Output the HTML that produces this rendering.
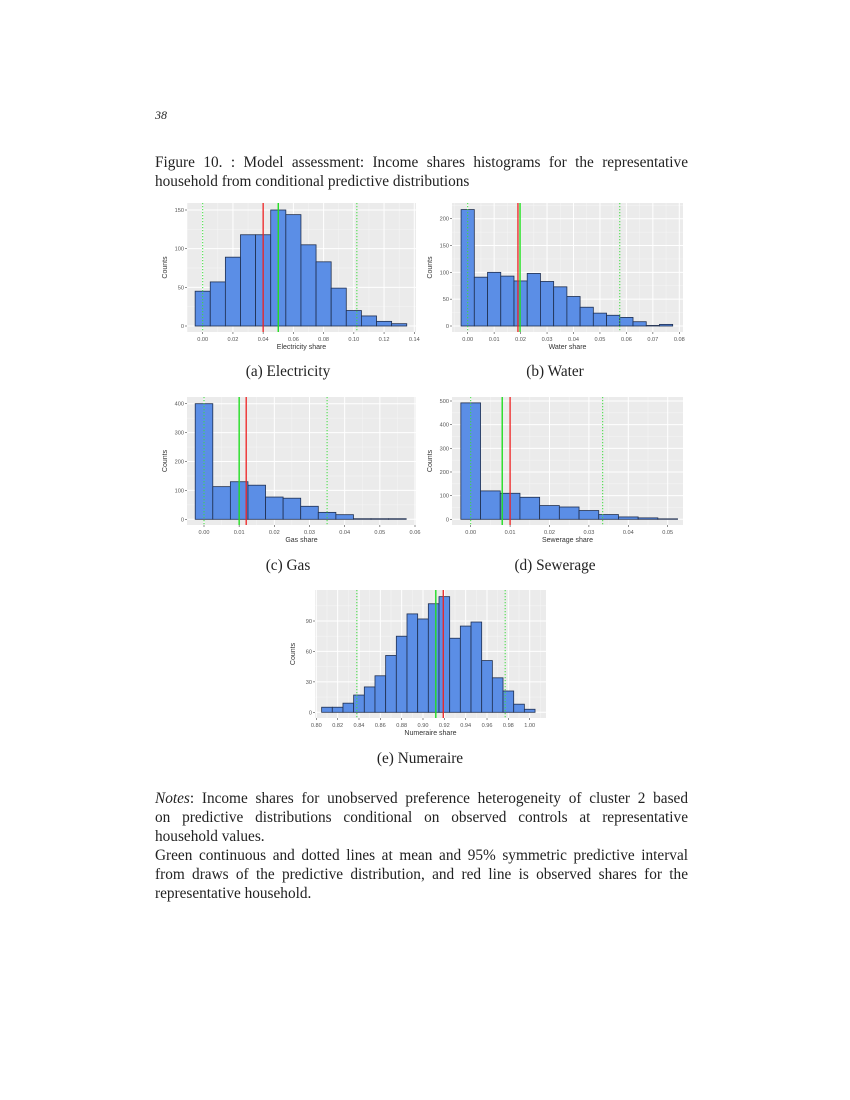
<!DOCTYPE html>
<html><head><meta charset="utf-8">
<style>
html,body{margin:0;padding:0;background:#fff;}
body{width:850px;height:1100px;position:relative;overflow:hidden;font-family:"Liberation Serif",serif;color:#222;}
.t{position:absolute;left:155px;width:533px;font-size:15.3px;line-height:19px;text-align:justify;text-align-last:justify;white-space:nowrap;}
.l{text-align-last:left;}
.sub{position:absolute;font-size:15.3px;transform:translateX(-50%);white-space:nowrap;}
svg{position:absolute;left:0;top:0;}
svg text{font-family:"Liberation Sans",sans-serif;}
</style></head>
<body>
<div style="position:absolute;left:155px;top:108px;font-style:italic;font-size:12px;">38</div>
<div class="t" style="top:153px;">Figure 10. : Model assessment: Income shares histograms for the representative</div>
<div class="t l" style="top:172px;">household from conditional predictive distributions</div>
<div class="sub" style="left:288px;top:363px;">(a) Electricity</div>
<div class="sub" style="left:555px;top:363px;">(b) Water</div>
<div class="sub" style="left:288px;top:557px;">(c) Gas</div>
<div class="sub" style="left:555px;top:557px;">(d) Sewerage</div>
<div class="sub" style="left:420px;top:750px;">(e) Numeraire</div>
<div class="t" style="top:789px;"><i>Notes</i>: Income shares for unobserved preference heterogeneity of cluster 2 based</div>
<div class="t" style="top:808px;">on predictive distributions conditional on observed controls at representative</div>
<div class="t l" style="top:827px;">household values.</div>
<div class="t" style="top:846px;">Green continuous and dotted lines at mean and 95% symmetric predictive interval</div>
<div class="t" style="top:865px;">from draws of the predictive distribution, and red line is observed shares for the</div>
<div class="t l" style="top:884px;">representative household.</div>
<svg id="chart" width="850" height="1100"></svg>
<script>
// ---- data ----
const elecCounts=[45,57,89,118,118,150,144,105,83,49,20,13,6,3];
const elecXTicks=["0.00","0.02","0.04","0.06","0.08","0.10","0.12","0.14"];
const elecYTicks=[0,50,100,150];
const elecLines=[0.05,0.04,0.0,0.102]; // mean, observed, lo, hi
const waterCounts=[217,91,100,93,84,98,83,73,55,35,24,20,16,8,1,3];
const waterXTicks=["0.00","0.01","0.02","0.03","0.04","0.05","0.06","0.07","0.08"];
const waterYTicks=[0,50,100,150,200];
const waterLines=[0.0198,0.019,0.0,0.0575];
const gasCounts=[400,113,130,118,77,73,45,24,16,2,2,2];
const gasXTicks=["0.00","0.01","0.02","0.03","0.04","0.05","0.06"];
const gasYTicks=[0,100,200,300,400];
const gasLines=[0.01,0.012,0.0,0.035];
const sewCounts=[492,120,110,93,58,52,37,20,10,6,2];
const sewXTicks=["0.00","0.01","0.02","0.03","0.04","0.05"];
const sewYTicks=[0,100,200,300,400,500];
const sewLines=[0.008,0.010,0.0,0.0335];
const numCounts=[5,5,9,17,25,36,56,75,97,92,107,114,73,85,89,51,34,21,8,3];
const numXTicks=["0.80","0.82","0.84","0.86","0.88","0.90","0.92","0.94","0.96","0.98","1.00"];
const numYTicks=[0,30,60,90];
const numLines=[0.912,0.919,0.838,0.977];

const NS="http://www.w3.org/2000/svg";
const svg=document.getElementById('chart');
function mk(tag,attrs,parent){const e=document.createElementNS(NS,tag);for(const k in attrs)e.setAttribute(k,attrs[k]);(parent||svg).appendChild(e);return e;}

function chart(id,px0,py0,px1,py1,xv0,xp0,xv1,xp1,yv1,yp1,yp0,binStart,binW,counts,xt,yt,lines,xtitle){
  const g=mk('g',{});
  
  
  const X=v=>xp0+(v-xv0)*(xp1-xp0)/(xv1-xv0);
  const Y=v=>yp0+(v)*(yp1-yp0)/yv1;
  const bg=mk('rect',{x:px0,y:py0,width:px1-px0,height:py1-py0,fill:'#ebebeb'},g);
  
  
  const xs=xt.map(Number), step=xs[1]-xs[0];
  const ysStep=yt[1]-yt[0];
  // minor grid
  for(let i=-1;i<xs.length;i++){const v=xs[0]+(i+0.5)*step;const p=X(v);if(p>px0&&p<px1)mk('line',{x1:p,x2:p,y1:py0,y2:py1,stroke:'#f6f6f6','stroke-width':0.5},g);}
  for(let i=-1;i<yt.length;i++){const v=yt[0]+(i+0.5)*ysStep;const p=Y(v);if(p>py0&&p<py1)mk('line',{x1:px0,x2:px1,y1:p,y2:p,stroke:'#f6f6f6','stroke-width':0.5},g);}
  xs.forEach((v,i)=>{const p=X(v);mk('line',{x1:p,x2:p,y1:py0,y2:py1,stroke:'#fff','stroke-width':1},g);
    mk('line',{x1:p,x2:p,y1:py1,y2:py1+2,stroke:'#444','stroke-width':0.6},g);
    const t=mk('text',{x:p,y:py1+9,'font-size':5.6,fill:'#555','text-anchor':'middle'},g);t.textContent=xt[i];
    
    });
  yt.forEach(v=>{const p=Y(v);mk('line',{x1:px0,x2:px1,y1:p,y2:p,stroke:'#fff','stroke-width':1},g);
    mk('line',{x1:px0-2,x2:px0,y1:p,y2:p,stroke:'#444','stroke-width':0.6},g);
    const t=mk('text',{x:px0-3,y:p+2,'font-size':5.6,fill:'#555','text-anchor':'end'},g);t.textContent=v;
    
    });
  counts.forEach((c,i)=>{const a=binStart+i*binW;const r=mk('rect',{x:X(a),y:Y(c),width:X(a+binW)-X(a),height:Y(0)-Y(c),fill:'#5b8ee6',stroke:'#1f2f50','stroke-width':0.8},g);
    
    });
  const [mean,obs,lo,hi]=lines;
  [[lo,'lo'],[hi,'hi']].forEach(([v,n])=>{const l=mk('line',{x1:X(v),x2:X(v),y1:py0,y2:py1,stroke:'#3ddc3d','stroke-width':1,'stroke-dasharray':'1.2,1.8'},g);
    
    });
  const m=mk('line',{x1:X(mean),x2:X(mean),y1:py0,y2:py1,stroke:'#22dd22','stroke-width':1.4},g);
  
  
  const o=mk('line',{x1:X(obs),x2:X(obs),y1:py0,y2:py1,stroke:'#ee2222','stroke-width':1.3},g);
  
  
  const xtl=mk('text',{x:(px0+px1)/2,y:py1+17,'font-size':7,fill:'#333','text-anchor':'middle'},g);xtl.textContent=xtitle;
  
  
  const cy=(py0+py1)/2, cx=px0-20;
  const ytl=mk('text',{x:cx,y:cy,'font-size':7,fill:'#333','text-anchor':'middle',transform:`rotate(-90 ${cx} ${cy})`},g);ytl.textContent='Counts';
  
  
}
chart('electricity',187,203,416,332, 0,202.7,0.14,414.3, 150,210,326, -0.005,0.01,elecCounts,elecXTicks,elecYTicks,elecLines,'Electricity share');
chart('water',452,203,683,332, 0,467.7,0.08,679.3, 200,218.7,326, -0.0025,0.005,waterCounts,waterXTicks,waterYTicks,waterLines,'Water share');
chart('gas',187,397,416,525, 0,204,0.06,415, 400,403.7,519.3, -0.0025,0.005,gasCounts,gasXTicks,gasYTicks,gasLines,'Gas share');
chart('sewerage',452,397,683,525, 0,470.7,0.05,667.7, 500,401,519.3, -0.0025,0.005,sewCounts,sewXTicks,sewYTicks,sewLines,'Sewerage share');
chart('numeraire',315,590,546,718, 0.80,316.3,1.00,529.7, 90,621,712.3, 0.805,0.01,numCounts,numXTicks,numYTicks,numLines,'Numeraire share');
</script>
</body></html>
